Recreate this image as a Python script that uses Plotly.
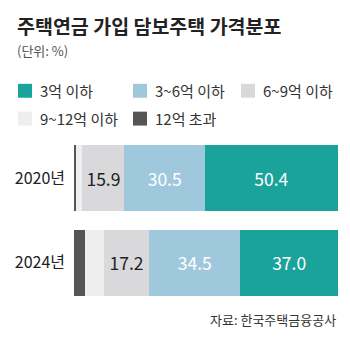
import plotly.graph_objects as go

# ---- data ----
years = ["2020년", "2024년"]
series_names = ["12억 초과", "9~12억 이하", "6~9억 이하", "3~6억 이하", "3억 이하"]
v_over12 = [0.7, 4.2]
v_9to12 = [2.5, 7.1]
v_6to9 = [15.9, 17.2]
v_3to6 = [30.5, 34.5]
v_under3 = [50.4, 37.0]
series_values = [v_over12, v_9to12, v_6to9, v_3to6, v_under3]
show_labels = [False, False, True, True, True]
colors = ["#555555", "#eeeeee", "#d9d9db", "#a0c8dd", "#1aa39b"]
label_colors = ["#222222", "#222222", "#222222", "#ffffff", "#ffffff"]
legend_order = ["3억 이하", "3~6억 이하", "6~9억 이하", "9~12억 이하", "12억 초과"]

FONT = "Noto Sans CJK KR"
W = H = 350
ML, MR, MT, MB = 74, 12, 135.5, 44.5
PW, PH = W - ML - MR, H - MT - MB


def px(x):
    return (x - ML) / PW


def py(y):
    return (H - MB - y) / PH


fig = go.Figure()
for name, vals, show, col, lc in zip(series_names, series_values, show_labels, colors, label_colors):
    fig.add_trace(go.Bar(
        y=years, x=vals, name=name, orientation="h",
        marker=dict(color=col, line=dict(width=0)),
        text=[f"{v:.1f}" for v in vals] if show else None,
        textposition="inside" if show else "none",
        insidetextanchor="middle",
        textfont=dict(family=FONT, size=17.5, color=lc),
        constraintext="none",
        showlegend=False,
        hoverinfo="skip",
    ))

# ---- manual legend (swatches + labels) ----
col_x = [18, 133, 241]
row_y = [90, 118]
sq = 14
for i, nm in enumerate(legend_order):
    r, c = divmod(i, 3)
    x0 = col_x[c]
    yc = row_y[r]
    col = colors[series_names.index(nm)]
    fig.add_shape(type="rect", xref="paper", yref="paper",
                  x0=px(x0), x1=px(x0 + sq),
                  y0=py(yc + sq / 2), y1=py(yc - sq / 2),
                  fillcolor=col, line=dict(width=0))
    fig.add_annotation(xref="paper", yref="paper",
                       x=px(x0 + 20), y=py(yc),
                       text=nm, showarrow=False, xanchor="left", yanchor="middle",
                       font=dict(family=FONT, size=15, color="#333333"))

# title / subtitle / source
fig.add_annotation(xref="paper", yref="paper",
                   x=px(15), y=py(24),
                   text="주택연금 가입 담보주택 가격분포", showarrow=False,
                   xanchor="left", yanchor="middle",
                   font=dict(family=FONT, size=19.5, color="#222222", weight="bold"))
fig.add_annotation(xref="paper", yref="paper",
                   x=px(15), y=py(49),
                   text="(단위: %)", showarrow=False,
                   xanchor="left", yanchor="middle",
                   font=dict(family=FONT, size=13, color="#555555"))
fig.add_annotation(xref="paper", yref="paper",
                   x=1, y=py(320),
                   text="자료: 한국주택금융공사", showarrow=False,
                   xanchor="right", yanchor="middle",
                   font=dict(family=FONT, size=13, color="#333333"))

fig.update_layout(
    width=W, height=H,
    margin=dict(l=ML, r=MR, t=MT, b=MB),
    barmode="stack", bargap=0.224,
    plot_bgcolor="white", paper_bgcolor="white",
    xaxis=dict(range=[0, 100], visible=False, fixedrange=True),
    yaxis=dict(categoryorder="array", categoryarray=years, autorange="reversed",
               showgrid=False, zeroline=False, showline=False, ticks="",
               ticklabelstandoff=8,
               tickfont=dict(family=FONT, size=16, color="#222222")),
    showlegend=False,
)

fig.write_html("out.html")
